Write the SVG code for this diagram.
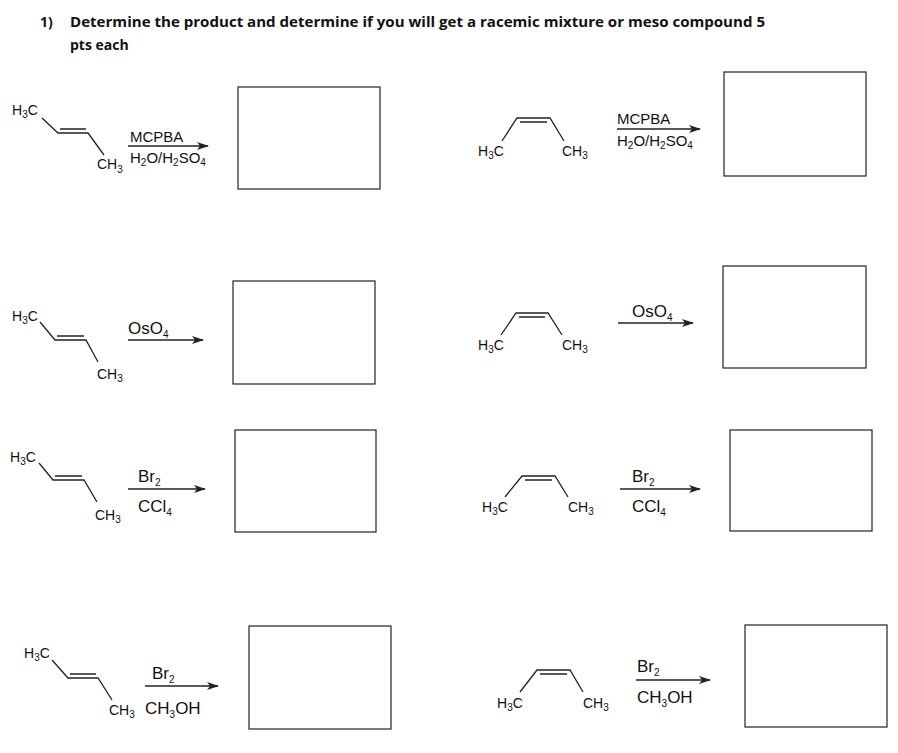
<svg xmlns="http://www.w3.org/2000/svg" width="898" height="753" viewBox="0 0 898 753">
<style>
.t{font-family:"Open Sans","Liberation Sans",sans-serif;font-weight:bold;font-size:14px;fill:#111}
.c{font-family:"Liberation Sans",Arial,sans-serif;font-size:14px;fill:#111}
.m{font-family:"Liberation Sans",Arial,sans-serif;font-size:15px;fill:#111}
.r{font-family:"Liberation Sans",Arial,sans-serif;font-size:17px;fill:#111}
.s{font-size:10px}
.b{fill:none;stroke:#222;stroke-width:1.2}
.l{fill:none;stroke:#222;stroke-width:1.3}
.a{stroke:#222;stroke-width:1.3;marker-end:url(#ah)}
</style>
<defs><marker id="ah" markerWidth="12" markerHeight="8" refX="11" refY="4" orient="auto" markerUnits="userSpaceOnUse"><path d="M0,0 L12,4 L0,8 L3,4 z" fill="#222"/></marker></defs>
<rect width="898" height="753" fill="#fff"/>
<text class="t" x="40" y="27">1)</text>
<text class="t" x="70" y="27" textLength="695" lengthAdjust="spacingAndGlyphs">Determine the product and determine if you will get a racemic mixture or meso compound 5</text>
<text class="t" x="70" y="50">pts each</text>

<g id="r1l">
<text class="c" x="12" y="115">H<tspan class="s" dy="3">3</tspan><tspan dy="-3">C</tspan></text>
<path class="l" d="M42,118 L58,133 L88,133 L104,155 M60,129 L86,129"/>
<text class="c" x="97" y="169">CH<tspan class="s" dy="4">3</tspan></text>
<text class="m" x="130" y="142">MCPBA</text>
<line class="a" x1="128" y1="146" x2="208" y2="146"/>
<text class="m" x="130" y="163">H<tspan class="s" dy="3">2</tspan><tspan dy="-3">O/H</tspan><tspan class="s" dy="3">2</tspan><tspan dy="-3">SO</tspan><tspan class="s" dy="3">4</tspan></text>
<rect class="b" x="238" y="87" width="142" height="102"/>
</g>
<g id="r1r">
<text class="c" x="478" y="156">H<tspan class="s" dy="3">3</tspan><tspan dy="-3">C</tspan></text>
<path class="l" d="M502,141 L517,118 L550,118 L564,141 M520,122 L547,122"/>
<text class="c" x="562" y="156">CH<tspan class="s" dy="3">3</tspan></text>
<text class="m" x="617" y="124">MCPBA</text>
<line class="a" x1="617" y1="129" x2="700" y2="129"/>
<text class="m" x="617" y="146">H<tspan class="s" dy="3">2</tspan><tspan dy="-3">O/H</tspan><tspan class="s" dy="3">2</tspan><tspan dy="-3">SO</tspan><tspan class="s" dy="3">4</tspan></text>
<rect class="b" x="724" y="72" width="142" height="104"/>
</g>

<g id="r2l">
<text class="c" x="12" y="321">H<tspan class="s" dy="3">3</tspan><tspan dy="-3">C</tspan></text>
<path class="l" d="M40,322 L55,340 L86,340 L98,362 M57,336 L84,336"/>
<text class="c" x="97" y="379">CH<tspan class="s" dy="3">3</tspan></text>
<text class="r" x="128" y="334">OsO<tspan class="s" dy="4">4</tspan></text>
<line class="a" x1="128" y1="340" x2="203" y2="340"/>
<rect class="b" x="233" y="281" width="142" height="103"/>
</g>
<g id="r2r">
<text class="c" x="478" y="350">H<tspan class="s" dy="3">3</tspan><tspan dy="-3">C</tspan></text>
<path class="l" d="M501,335 L516,313 L548,313 L562,335 M519,317 L545,317"/>
<text class="c" x="562" y="350">CH<tspan class="s" dy="3">3</tspan></text>
<text class="r" x="632" y="317">OsO<tspan class="s" dy="4">4</tspan></text>
<line class="a" x1="618" y1="323" x2="693" y2="323"/>
<rect class="b" x="723" y="266" width="143" height="102"/>
</g>

<g id="r3l">
<text class="c" x="10" y="462">H<tspan class="s" dy="3">3</tspan><tspan dy="-3">C</tspan></text>
<path class="l" d="M39,463 L53,480 L84,480 L97,502 M55,476 L82,476"/>
<text class="c" x="95" y="520">CH<tspan class="s" dy="3">3</tspan></text>
<text class="r" x="138" y="482">Br<tspan class="s" dy="4">2</tspan></text>
<line class="a" x1="128" y1="489" x2="205" y2="489"/>
<text class="r" x="138" y="512">CCl<tspan class="s" dy="4">4</tspan></text>
<rect class="b" x="235" y="430" width="141" height="102"/>
</g>
<g id="r3r">
<text class="c" x="482" y="512">H<tspan class="s" dy="3">3</tspan><tspan dy="-3">C</tspan></text>
<path class="l" d="M505,497 L522,476 L555,476 L568,497 M525,480 L552,480"/>
<text class="c" x="568" y="512">CH<tspan class="s" dy="3">3</tspan></text>
<text class="r" x="632" y="482">Br<tspan class="s" dy="4">2</tspan></text>
<line class="a" x1="620" y1="489" x2="700" y2="489"/>
<text class="r" x="632" y="512">CCl<tspan class="s" dy="4">4</tspan></text>
<rect class="b" x="730" y="430" width="142" height="101"/>
</g>

<g id="r4l">
<text class="c" x="24" y="658">H<tspan class="s" dy="3">3</tspan><tspan dy="-3">C</tspan></text>
<path class="l" d="M52,660 L68,678 L98,678 L112,700 M70,674 L96,674"/>
<text class="c" x="109" y="715">CH<tspan class="s" dy="3">3</tspan></text>
<text class="r" x="152" y="679">Br<tspan class="s" dy="4">2</tspan></text>
<line class="a" x1="145" y1="686" x2="218" y2="686"/>
<text class="r" x="145" y="714">CH<tspan class="s" dy="4">3</tspan><tspan dy="-4">OH</tspan></text>
<rect class="b" x="249" y="626" width="142" height="103"/>
</g>
<g id="r4r">
<text class="c" x="497" y="708">H<tspan class="s" dy="3">3</tspan><tspan dy="-3">C</tspan></text>
<path class="l" d="M520,692 L537,670 L570,670 L583,692 M540,674 L567,674"/>
<text class="c" x="583" y="708">CH<tspan class="s" dy="3">3</tspan></text>
<text class="r" x="637" y="672">Br<tspan class="s" dy="4">2</tspan></text>
<line class="a" x1="636" y1="680" x2="710" y2="680"/>
<text class="r" x="637" y="703">CH<tspan class="s" dy="4">3</tspan><tspan dy="-4">OH</tspan></text>
<rect class="b" x="745" y="625" width="142" height="102"/>
</g>
</svg>
